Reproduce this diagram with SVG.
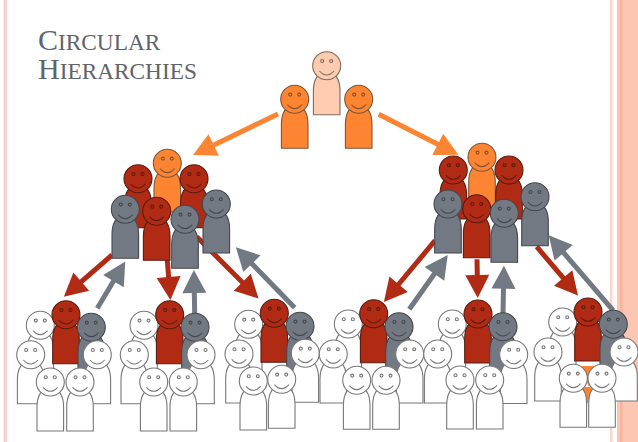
<svg xmlns="http://www.w3.org/2000/svg" width="638" height="442" viewBox="0 0 638 442">
<style>
.title{font-family:"Liberation Serif",serif;font-size:30px;fill:#5f646b}
.title tspan{font-size:23.3px}
.a{stroke-width:5;fill:none}
.ao{stroke:#fd8431}.ar{stroke:#b02a14}.ag{stroke:#737983}
.pale{fill:#fdcbb0;stroke:#7d6a5e}
.orange{fill:#fd8431;stroke:#7f5537}
.red{fill:#b02a14;stroke:#5a1c10}
.gray{fill:#737983;stroke:#44474e}
.white{fill:#fff;stroke:#777}
</style>
<defs>
<g id="person" stroke-width="1.1">
<path d="M-13.3,49V25C-13.3,14-9,6 0,6C9,6 13.3,14 13.3,25V49Z"/>
<circle r="14"/>
<circle cx="-4.5" cy="-4.7" r="1.5"/>
<circle cx="4.5" cy="-4.7" r="1.5"/>
<path d="M-7.3,5.3Q0,13.3 7.3,5.3" fill="none"/>
</g>
<marker id="mo" markerUnits="userSpaceOnUse" markerWidth="26" markerHeight="26" refX="1" refY="12" orient="auto" overflow="visible"><path d="M0,0L23,12L0,24Z" fill="#fd8431"/></marker>
<marker id="mr" markerUnits="userSpaceOnUse" markerWidth="26" markerHeight="26" refX="1" refY="12" orient="auto" overflow="visible"><path d="M0,0L23,12L0,24Z" fill="#b02a14"/></marker>
<marker id="mg" markerUnits="userSpaceOnUse" markerWidth="26" markerHeight="26" refX="1" refY="12" orient="auto" overflow="visible"><path d="M0,0L23,12L0,24Z" fill="#737983"/></marker>
</defs>
<rect width="638" height="442" fill="#fff"/>
<g id="frame">
<rect x="3.5" y="0" width="3.5" height="442" fill="#f6d3ca"/>
<rect x="610" y="0" width="2.5" height="442" fill="#fcd6c8"/>
<rect x="617" y="0" width="21" height="442" fill="#fdc6b3"/>
<rect x="620" y="0" width="2.5" height="442" fill="#f5b49c"/>
</g>
<text class="title" x="38" y="50">C<tspan>IRCULAR</tspan></text>
<text class="title" x="38" y="79">H<tspan>IERARCHIES</tspan></text>
<g id="connectors">
<line class="a ao" x1="278" y1="114" x2="212.8" y2="145.5" marker-end="url(#mo)"/>
<line class="a ao" x1="378.7" y1="114.3" x2="438.7" y2="144.8" marker-end="url(#mo)"/>
<line class="a ar" x1="112" y1="255" x2="80.5" y2="282.3" marker-end="url(#mr)"/>
<line class="a ar" x1="167.3" y1="260" x2="168.7" y2="278" marker-end="url(#mr)"/>
<line class="a ar" x1="196.7" y1="236.7" x2="243" y2="283" marker-end="url(#mr)"/>
<line class="a ag" x1="97.3" y1="308.3" x2="114" y2="280.3" marker-end="url(#mg)"/>
<line class="a ag" x1="194.7" y1="313.3" x2="194.3" y2="292" marker-end="url(#mg)"/>
<line class="a ag" x1="294.7" y1="307.7" x2="251.2" y2="263" marker-end="url(#mg)"/>
<line class="a ar" x1="435" y1="240.7" x2="398" y2="285" marker-end="url(#mr)"/>
<line class="a ar" x1="477" y1="259.3" x2="477.3" y2="276" marker-end="url(#mr)"/>
<line class="a ar" x1="536.7" y1="246.7" x2="563.8" y2="278.7" marker-end="url(#mr)"/>
<line class="a ag" x1="409.3" y1="309.3" x2="435" y2="273" marker-end="url(#mg)"/>
<line class="a ag" x1="503" y1="313.3" x2="503.5" y2="287.7" marker-end="url(#mg)"/>
<line class="a ag" x1="613.3" y1="310.7" x2="563" y2="252" marker-end="url(#mg)"/>
<path d="M580,366H600L589,387ZM578,387H598L587,404Z" fill="#fd8431"/>
</g>
<g id="top-pale" class="pale" transform="translate(326.7 65.7)"><use href="#person"/></g>
<g id="top-orange-l" class="orange" transform="translate(294.7 99.3)"><use href="#person"/></g>
<g id="top-orange-r" class="orange" transform="translate(358.7 99.3)"><use href="#person"/></g>

<g id="ml-orange" class="orange" transform="translate(167.3 163.3)"><use href="#person"/></g>
<g id="ml-red-l" class="red" transform="translate(138 178.7)"><use href="#person"/></g>
<g id="ml-red-r" class="red" transform="translate(194 178.7)"><use href="#person"/></g>
<g id="ml-gray-l" class="gray" transform="translate(125.3 209.3)"><use href="#person"/></g>
<g id="ml-red-m" class="red" transform="translate(156.7 211.3)"><use href="#person"/></g>
<g id="ml-gray-m" class="gray" transform="translate(185 219.3)"><use href="#person"/></g>
<g id="ml-gray-r" class="gray" transform="translate(216.3 204)"><use href="#person"/></g>

<g id="mr-orange" class="orange" transform="translate(482 157.3)"><use href="#person"/></g>
<g id="mr-red-l" class="red" transform="translate(453.3 170)"><use href="#person"/></g>
<g id="mr-red-r" class="red" transform="translate(509 170)"><use href="#person"/></g>
<g id="mr-gray-l" class="gray" transform="translate(448 204)"><use href="#person"/></g>
<g id="mr-red-m" class="red" transform="translate(476.7 208.7)"><use href="#person"/></g>
<g id="mr-gray-m" class="gray" transform="translate(504.3 213.3)"><use href="#person"/></g>
<g id="mr-gray-r" class="gray" transform="translate(535 196.7)"><use href="#person"/></g>

<g id="c1-back" class="white" transform="translate(40.3 325.3)"><use href="#person"/></g>
<g id="c1-red" class="red" transform="translate(66 314.7)"><use href="#person"/></g>
<g id="c1-gray" class="gray" transform="translate(91.3 327.3)"><use href="#person"/></g>
<g id="c1-left" class="white" transform="translate(30.7 354.7)"><use href="#person"/></g>
<g id="c1-right" class="white" transform="translate(97.3 354.7)"><use href="#person"/></g>
<g id="c1-front1" class="white" transform="translate(50.3 382)"><use href="#person"/></g>
<g id="c1-front2" class="white" transform="translate(80 382)"><use href="#person"/></g>

<g id="c2-back" class="white" transform="translate(144 325.3)"><use href="#person"/></g>
<g id="c2-red" class="red" transform="translate(169.7 314.7)"><use href="#person"/></g>
<g id="c2-gray" class="gray" transform="translate(195 327.3)"><use href="#person"/></g>
<g id="c2-left" class="white" transform="translate(134.3 354.7)"><use href="#person"/></g>
<g id="c2-right" class="white" transform="translate(201 354.7)"><use href="#person"/></g>
<g id="c2-front1" class="white" transform="translate(153.7 382)"><use href="#person"/></g>
<g id="c2-front2" class="white" transform="translate(183.3 382)"><use href="#person"/></g>

<g id="c3-back" class="white" transform="translate(248.7 324.3)"><use href="#person"/></g>
<g id="c3-red" class="red" transform="translate(274.3 313.3)"><use href="#person"/></g>
<g id="c3-gray" class="gray" transform="translate(300 326.3)"><use href="#person"/></g>
<g id="c3-left" class="white" transform="translate(239 354)"><use href="#person"/></g>
<g id="c3-right" class="white" transform="translate(305.3 353.3)"><use href="#person"/></g>
<g id="c3-front2" class="white" transform="translate(281.7 379.3)"><use href="#person"/></g>
<g id="c3-front1" class="white" transform="translate(253.3 381)"><use href="#person"/></g>

<g id="c4-back" class="white" transform="translate(348.3 324)"><use href="#person"/></g>
<g id="c4-red" class="red" transform="translate(373.7 313.7)"><use href="#person"/></g>
<g id="c4-gray" class="gray" transform="translate(399 326.7)"><use href="#person"/></g>
<g id="c4-left" class="white" transform="translate(333.3 354)"><use href="#person"/></g>
<g id="c4-right" class="white" transform="translate(409.7 354)"><use href="#person"/></g>
<g id="c4-front1" class="white" transform="translate(356.7 380.3)"><use href="#person"/></g>
<g id="c4-front2" class="white" transform="translate(386 380.3)"><use href="#person"/></g>

<g id="c5-back" class="white" transform="translate(452.3 324)"><use href="#person"/></g>
<g id="c5-red" class="red" transform="translate(478 314)"><use href="#person"/></g>
<g id="c5-gray" class="gray" transform="translate(503 326.7)"><use href="#person"/></g>
<g id="c5-left" class="white" transform="translate(437.7 354)"><use href="#person"/></g>
<g id="c5-right" class="white" transform="translate(513.7 354.5)"><use href="#person"/></g>
<g id="c5-front1" class="white" transform="translate(460 380)"><use href="#person"/></g>
<g id="c5-front2" class="white" transform="translate(489.7 380)"><use href="#person"/></g>

<g id="c6-back" class="white" transform="translate(562.7 322)"><use href="#person"/></g>
<g id="c6-red" class="red" transform="translate(588 312)"><use href="#person"/></g>
<g id="c6-gray" class="gray" transform="translate(613.3 324.3)"><use href="#person"/></g>
<g id="c6-left" class="white" transform="translate(548 352)"><use href="#person"/></g>
<g id="c6-right" class="white" transform="translate(624 352)"><use href="#person"/></g>
<g id="c6-front1" class="white" transform="translate(573.3 378.3)"><use href="#person"/></g>
<g id="c6-front2" class="white" transform="translate(602 378.3)"><use href="#person"/></g>
</svg>
